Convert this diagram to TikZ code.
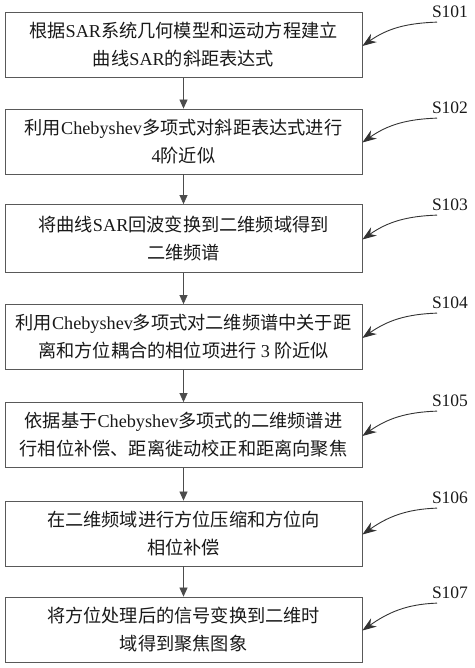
\documentclass[tikz,border=0pt]{standalone}
\usepackage{fontspec}
\setmainfont{Noto Sans CJK SC}
\newfontfamily\latfont{Liberation Serif}
\newcommand{\lat}[1]{{\latfont #1}}
\usetikzlibrary{arrows.meta,calc}
\begin{document}
\begin{tikzpicture}[x=1pt,y=-1pt,
  stepbox/.style={draw=black!65,line width=0.8pt,minimum width=357pt,minimum height=65pt,
    align=center,inner sep=0pt,font=\fontsize{18.2}{28}\selectfont,text=black!90},
  steplabel/.style={font=\latfont\fontsize{17.5}{20}\selectfont,inner sep=0pt,text=black!90},
  flow/.style={draw=black!70,line width=0.7pt,-{Triangle[length=9pt,width=8pt]}},
  callout/.style={draw=black!80,line width=0.9pt,-{Stealth[length=14pt,width=10pt]}}]
\useasboundingbox (0,0) rectangle (474,668);
\node[stepbox] (b1) at (183.5,45) {根据\lat{SAR}系统几何模型和运动方程建立\\曲线\lat{SAR}的斜距表达式};
\node[stepbox] (b2) at (183.5,141.5) {利用\lat{Chebyshev}多项式对斜距表达式进行\\\lat{4}阶近似};
\node[stepbox,minimum height=68pt] (b3) at (183.5,238.5) {将曲线\lat{SAR}回波变换到二维频域得到\\二维频谱};
\node[stepbox] (b4) at (183.5,337) {利用\lat{Chebyshev}多项式对二维频谱中关于距\\离和方位耦合的相位项进行 \lat{3} 阶近似};
\node[stepbox] (b5) at (183.5,435) {依据基于\lat{Chebyshev}多项式的二维频谱进\\行相位补偿、距离徙动校正和距离向聚焦};
\node[stepbox] (b6) at (183.5,533.5) {在二维频域进行方位压缩和方位向\\相位补偿};
\node[stepbox] (b7) at (183.5,629.5) {将方位处理后的信号变换到二维时\\域得到聚焦图象};
\foreach \i/\y in {1/12,2/108,3/205,4/303,5/401,6/498,7/593}{
  \node[steplabel] (l\i) at (450,\y) {S10\i};
  \coordinate (c\i) at ($(l\i.south)+(-13,4)$);
  \draw[callout] (c\i) to[out=182,in=35] ([yshift=-1pt]b\i.east);
}
\foreach \a/\b in {b1/b2,b2/b3,b3/b4,b4/b5,b5/b6,b6/b7}{
  \draw[flow] (\a.south) -- (\b.north);
}
\end{tikzpicture}
\end{document}
